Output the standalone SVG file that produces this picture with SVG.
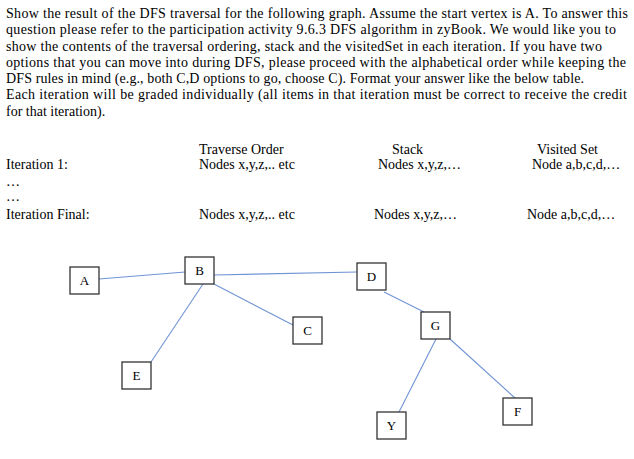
<svg xmlns="http://www.w3.org/2000/svg" width="634" height="459" viewBox="0 0 634 459">
<style>
text{font-family:"Liberation Serif","Times New Roman",serif;font-size:14px;fill:#000}
.n rect{fill:#fff;stroke:#333;stroke-width:1.3}
.n text{text-anchor:middle;font-size:13px}
#edges line{stroke:#6f94d4;stroke-width:1.1}
</style>
<rect width="634" height="459" fill="#fff"/>
<g id="prose">
<text x="6" y="18" textLength="622" lengthAdjust="spacing">Show the result of the DFS traversal for the following graph. Assume the start vertex is A. To answer this</text>
<text x="6" y="34" textLength="610" lengthAdjust="spacing">question please refer to the participation activity 9.6.3 DFS algorithm in zyBook. We would like you to</text>
<text x="6" y="51" textLength="596" lengthAdjust="spacing">show the contents of the traversal ordering, stack and the visitedSet in each iteration. If you have two</text>
<text x="6" y="67" textLength="620" lengthAdjust="spacing">options that you can move into during DFS, please proceed with the alphabetical order while keeping the</text>
<text x="6" y="83" textLength="578" lengthAdjust="spacing">DFS rules in mind (e.g., both C,D options to go, choose C). Format your answer like the below table.</text>
<text x="6" y="99" textLength="621" lengthAdjust="spacing">Each iteration will be graded individually (all items in that iteration must be correct to receive the credit</text>
<text x="6" y="116">for that iteration).</text>
</g>
<g id="table">
<text x="199" y="154">Traverse Order</text>
<text x="392" y="154">Stack</text>
<text x="537" y="154">Visited Set</text>
<text x="6" y="169">Iteration 1:</text>
<text x="199" y="169">Nodes x,y,z,.. etc</text>
<text x="378" y="169">Nodes x,y,z,…</text>
<text x="532" y="169">Node a,b,c,d,…</text>
<text x="6" y="186">…</text>
<text x="6" y="201">…</text>
<text x="6" y="219">Iteration Final:</text>
<text x="199" y="219">Nodes x,y,z,.. etc</text>
<text x="374" y="219">Nodes x,y,z,…</text>
<text x="527" y="219">Node a,b,c,d,…</text>
</g>
<g id="edges">
<line x1="99" y1="279" x2="185" y2="272"/>
<line x1="214" y1="275" x2="357" y2="272"/>
<line x1="203" y1="284" x2="151" y2="362"/>
<line x1="214" y1="284" x2="293" y2="325"/>
<line x1="384" y1="292" x2="424" y2="312"/>
<line x1="436" y1="339" x2="399" y2="412"/>
<line x1="450" y1="339" x2="515" y2="398"/>
</g>
<g id="A" class="n"><rect x="70" y="267" width="29" height="27"/><text x="84.5" y="285">A</text></g>
<g id="B" class="n"><rect x="185" y="257" width="29" height="27"/><text x="199.5" y="275">B</text></g>
<g id="D" class="n"><rect x="357" y="263" width="29" height="27"/><text x="371.5" y="281">D</text></g>
<g id="C" class="n"><rect x="293" y="317" width="29" height="27"/><text x="307.5" y="335">C</text></g>
<g id="E" class="n"><rect x="122" y="362" width="29" height="27"/><text x="136.5" y="380">E</text></g>
<g id="G" class="n"><rect x="421" y="312" width="29" height="27"/><text x="435.5" y="330">G</text></g>
<g id="Y" class="n"><rect x="377" y="412" width="29" height="27"/><text x="391.5" y="430">Y</text></g>
<g id="F" class="n"><rect x="503" y="398" width="29" height="27"/><text x="517.5" y="416">F</text></g>
</svg>
